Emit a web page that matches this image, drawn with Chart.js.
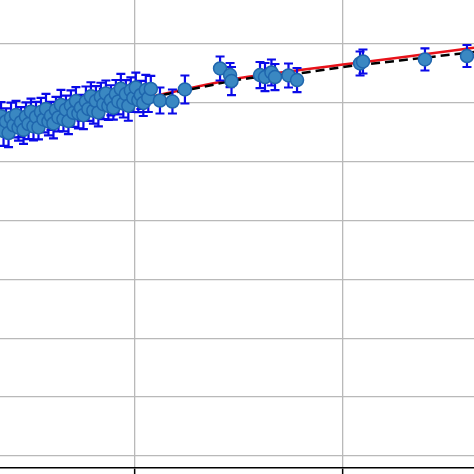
<!DOCTYPE html>
<html>
<head>
<meta charset="utf-8">
<script src="https://cdn.jsdelivr.net/npm/chart.js@4.4.1/dist/chart.umd.min.js"></script>
<style>
  html, body { margin: 0; padding: 0; background: #fff; }
  #wrap { width: 474px; height: 474px; }
</style>
</head>
<body>
<div id="wrap"><canvas id="chart" width="474" height="474"></canvas></div>
<script>
// measured points (x, y, +/- error)
const obsX = [3.56, 3.68, 3.80, 3.92, 4.04, 4.16, 4.28, 4.40, 4.52, 4.64, 4.76, 4.88, 5.00, 5.12, 5.24,
  5.36, 5.48, 5.60, 5.72, 5.84, 5.96, 6.08, 6.20, 6.32, 6.44, 6.56, 6.68, 6.80, 6.92, 7.04,
  7.16, 7.28, 7.40, 7.52, 7.64, 7.76, 7.88, 8.00, 8.12, 8.24, 8.36, 8.48, 8.60, 8.72, 8.84,
  8.96, 9.08, 9.20, 9.32, 9.44, 9.56, 9.68, 9.80, 9.92, 10.04, 10.16, 10.28, 10.40, 10.52, 10.64, 10.76,
  11.20, 11.80, 12.40, 14.09, 14.57, 14.64, 16.01, 16.25, 16.56, 16.73, 17.38, 17.79,
  20.82, 20.96, 23.94, 25.96];
const obsY = [57.74, 55.25, 56.84, 54.87, 57.48, 56.19, 57.95, 55.80, 56.72, 55.42, 57.69, 56.40, 58.50, 56.01, 57.61,
  55.83, 58.46, 57.18, 58.97, 56.84, 57.78, 56.50, 58.80, 57.52, 59.65, 57.21, 58.84, 56.91, 59.56, 58.31,
  60.31, 58.21, 59.17, 57.91, 60.23, 58.97, 61.12, 58.68, 60.31, 58.38, 61.04, 59.78, 61.59, 59.48, 60.44,
  59.19, 61.50, 60.25, 62.38, 59.89, 61.49, 59.51, 62.12, 60.83, 62.59, 60.45, 61.34, 59.98, 62.19, 60.83, 62.36,
  60.40, 60.23, 62.27, 65.84, 64.73, 63.71, 64.73, 64.39, 65.16, 64.39, 64.65, 63.88,
  66.69, 67.03, 67.37, 67.96];
const obsErr = [2.38, 2.55, 2.21, 2.38, 2.55, 2.04, 2.38, 2.21, 2.55, 2.38, 2.38, 2.55, 2.21, 2.38, 2.55,
  2.04, 2.38, 2.21, 2.55, 2.38, 2.38, 2.55, 2.21, 2.38, 2.55, 2.04, 2.38, 2.21, 2.55, 2.38,
  2.38, 2.55, 2.21, 2.38, 2.55, 2.04, 2.38, 2.21, 2.55, 2.38, 2.38, 2.55, 2.21, 2.38, 2.55,
  2.04, 2.38, 2.21, 2.55, 2.38, 2.38, 2.55, 2.21, 2.38, 2.55, 2.04, 2.38, 2.21, 2.55, 2.38, 2.21,
  2.21, 2.04, 2.38, 2.04, 2.04, 2.38, 2.21, 2.38, 2.21, 2.21, 2.04, 2.04,
  2.04, 2.04, 1.87, 1.87];

// fitted curves
const fitX = [3.51, 5.91, 8.32, 10.72, 13.13, 15.05, 17.93, 20.00, 22.74, 26.30];
const fitRed = [54.88, 57.09, 59.13, 61.00, 62.86, 64.22, 65.58, 66.50, 67.71, 69.35];
const fitDash = [54.88, 57.09, 59.13, 60.91, 62.61, 63.97, 65.02, 66.09, 67.20, 68.64];

const xTicks = [0, 10, 20, 30];
const yTicks = [0, 10, 20, 30, 40, 50, 60, 70];

const toXY = (xs, ys) => xs.map((x, i) => ({x: x, y: ys[i]}));

const errorBars = {
    id: 'errorBars',
    beforeDatasetDraw(chart, args) {
        if (args.index !== 0) return;
        const {ctx, scales: {x, y}} = chart;
        ctx.save();
        ctx.strokeStyle = '#0a0ae8';
        ctx.lineWidth = 2.2;
        obsX.forEach((v, i) => {
            const px = x.getPixelForValue(v);
            const top = y.getPixelForValue(obsY[i] + obsErr[i]);
            const bot = y.getPixelForValue(obsY[i] - obsErr[i]);
            ctx.beginPath();
            ctx.moveTo(px, top); ctx.lineTo(px, bot);
            ctx.moveTo(px - 4.5, top); ctx.lineTo(px + 4.5, top);
            ctx.moveTo(px - 4.5, bot); ctx.lineTo(px + 4.5, bot);
            ctx.stroke();
        });
        ctx.restore();
    }
};

new Chart(document.getElementById('chart'), {
    type: 'scatter',
    data: {
        datasets: [
            {
                data: toXY(obsX, obsY),
                backgroundColor: '#3a88c2',
                borderColor: '#1f66ad',
                borderWidth: 1.5,
                pointRadius: 6.5,
                order: 0
            },
            {
                data: toXY(fitX, fitDash),
                showLine: true,
                borderColor: '#000',
                borderWidth: 2.5,
                borderDash: [9, 5],
                pointRadius: 0,
                cubicInterpolationMode: 'monotone',
                order: 1
            },
            {
                data: toXY(fitX, fitRed),
                showLine: true,
                borderColor: '#e8121a',
                borderWidth: 2.5,
                pointRadius: 0,
                cubicInterpolationMode: 'monotone',
                order: 2
            }
        ]
    },
    options: {
        responsive: false,
        animation: false,
        devicePixelRatio: 1,
        layout: {padding: 0, autoPadding: false},
        plugins: {legend: {display: false}, tooltip: {enabled: false}},
        scales: {
            x: {
                type: 'linear',
                min: 3.5096,
                max: 26.298,
                afterBuildTicks: (s) => { s.ticks = xTicks.map(v => ({value: v})); },
                ticks: {display: false},
                grid: {color: '#b9b9b9', lineWidth: 1.3, tickColor: '#000', tickWidth: 1.5, tickLength: 6},
                border: {display: true, color: '#000', width: 1.6}
            },
            y: {
                type: 'linear',
                min: -2.039,
                max: 77.476,
                afterBuildTicks: (s) => { s.ticks = yTicks.map(v => ({value: v})); },
                ticks: {display: false},
                grid: {color: '#b9b9b9', lineWidth: 1.3, drawTicks: false},
                border: {display: false}
            }
        }
    },
    plugins: [errorBars]
});
</script>
</body>
</html>
